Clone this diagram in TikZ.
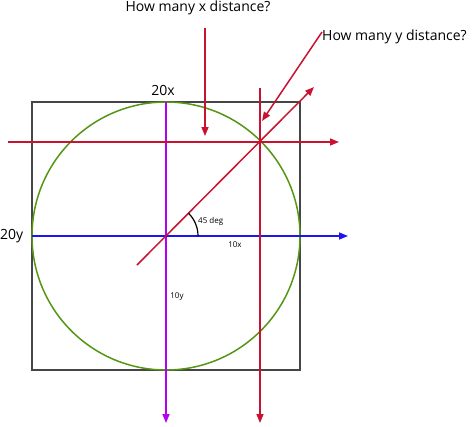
\documentclass[tikz,border=0pt]{standalone}
\usepackage{fontspec}
\setmainfont{Open Sans}
\usetikzlibrary{arrows.meta}

\definecolor{redline}{RGB}{200,18,48}
\definecolor{violetline}{RGB}{180,0,240}
\definecolor{blueline}{RGB}{30,20,240}
\definecolor{greenline}{RGB}{85,150,20}
\definecolor{boxline}{RGB}{70,70,70}

\tikzset{
  tip/.style={-{Triangle[length=9pt,width=7pt]}},
  redarrow/.style={draw=redline, line width=1.5pt, tip},
  bigtext/.style={font=\fontsize{14}{16}\selectfont, inner sep=1pt},
  smalltext/.style={font=\fontsize{8}{9}\selectfont, inner sep=1pt}
}

\begin{document}
\begin{tikzpicture}[x=1pt, y=-1pt]
  \useasboundingbox (0,0) rectangle (474,426);

  % square and circle
  \coordinate (O) at (166,236);
  \draw[boxline, line width=1.2pt] (32,102) rectangle (300,370);
  \draw[greenline, line width=1.5pt] (O) circle (134pt);

  % axes
  \coordinate (Ltop) at (166,102);
  \coordinate (Lbot) at (166,423);
  \coordinate (Hleft) at (32,236);
  \coordinate (Hright) at (348,236);
  \draw[violetline, line width=1.5pt, tip] (Ltop) -- (Lbot);
  \draw[blueline, line width=1.5pt, tip] (Hleft) -- (Hright);

  % red guide lines
  \coordinate (Rleft) at (8,142);
  \coordinate (Rright) at (339,142);
  \coordinate (Vtop) at (260,88);
  \coordinate (Vbot) at (260,423);
  \coordinate (Dlow) at (137,265);
  \coordinate (Dhigh) at (314,87);
  \draw[redarrow] (Rleft) -- (Rright);
  \draw[redarrow] (Vtop) -- (Vbot);
  \draw[redarrow] (Dlow) -- (Dhigh);

  % angle
  \draw[black, line width=1.2pt] (O) ++(32pt,0pt) arc[start angle=0, end angle=45, radius=32pt];
  \node[smalltext, anchor=west] at (197,221) (A) {45 deg};

  % labels
  \node[bigtext] at (163,90) (X) {20x};
  \node[bigtext, anchor=west] at (-1,236) (Y) {20y};
  \node[smalltext] at (235,245) (HX) {10x};
  \node[smalltext] at (177,297) (HY) {10y};

  % questions
  \node[bigtext] at (198,8) (QX) {How many x distance?};
  \node[bigtext, anchor=west] at (321,37) (QY) {How many y distance?};
  \coordinate (QXfrom) at (205,28);
  \coordinate (QXto) at (205,136);
  \coordinate (QYfrom) at (322,32);
  \coordinate (QYto) at (262,121);
  \draw[redarrow] (QXfrom) -- (QXto);
  \draw[redarrow] (QYfrom) -- (QYto);
\end{tikzpicture}
\end{document}
